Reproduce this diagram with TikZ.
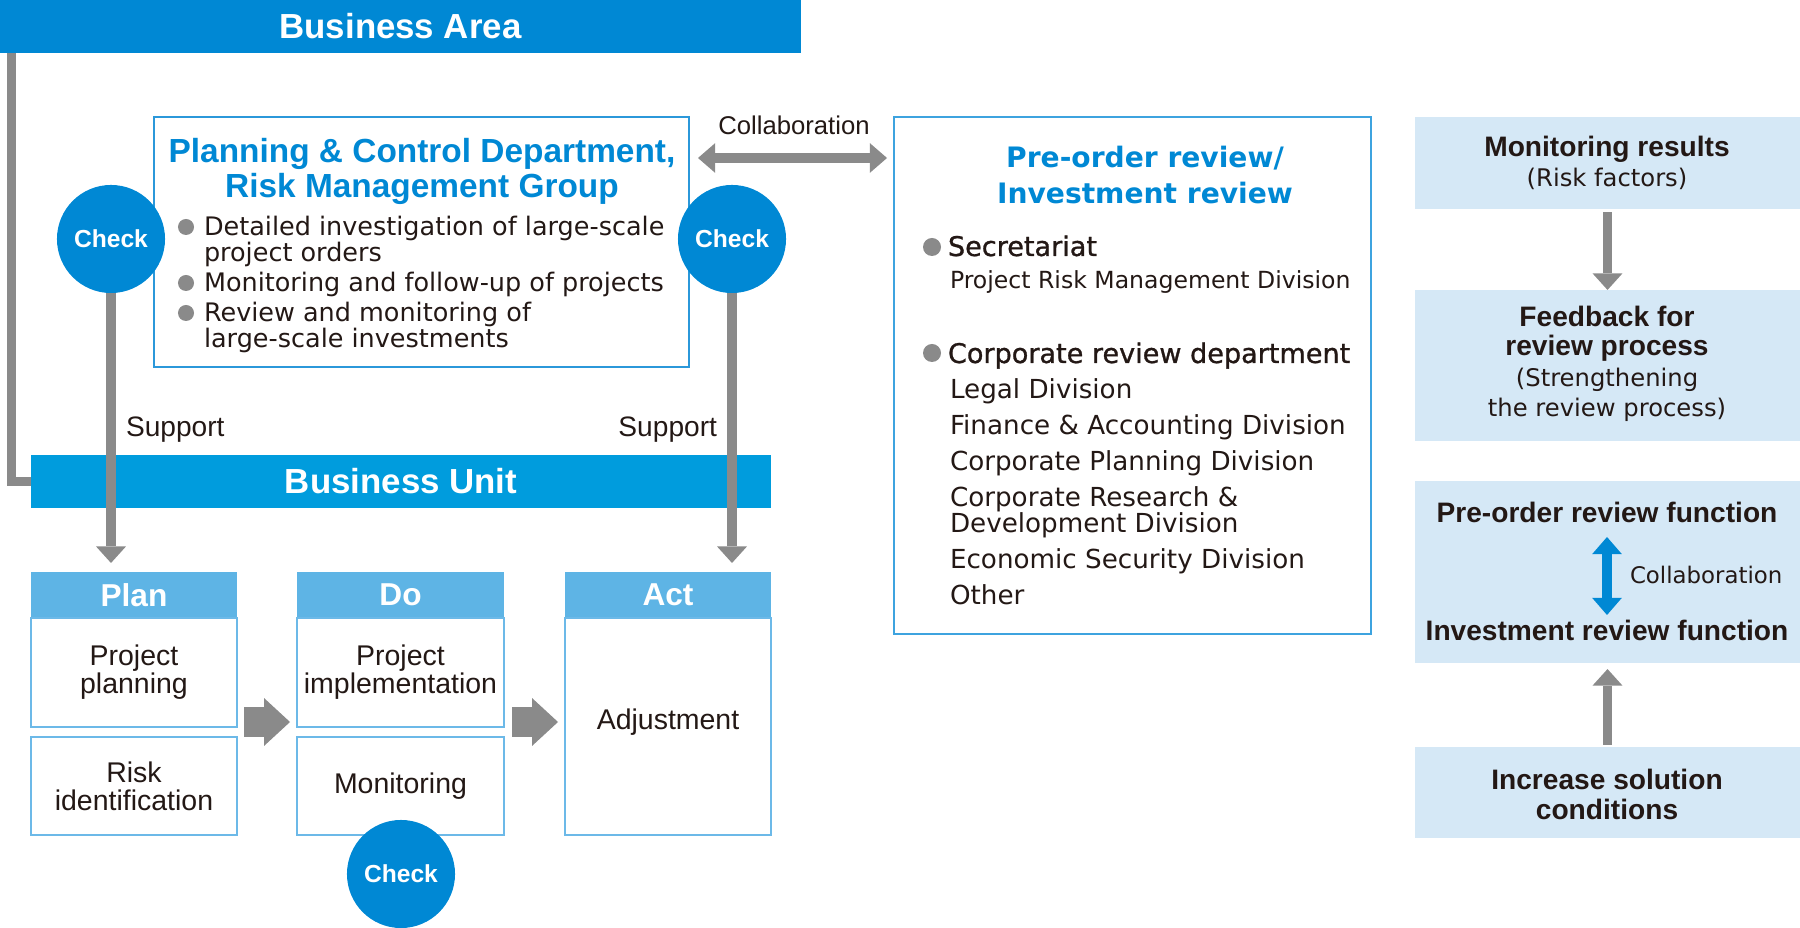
\documentclass[tikz,border=0pt]{standalone}
\usepackage{fontspec}
\setmainfont{Liberation Sans}
\newfontfamily\dv{DejaVu Sans}
\newfontfamily\dvsemi[FakeBold=1]{DejaVu Sans}
\usetikzlibrary{arrows.meta,calc}
\definecolor{bdark}{HTML}{0088D4}
\definecolor{bunitc}{HTML}{009CDD}
\definecolor{bhead}{HTML}{5EB4E5}
\definecolor{bline}{HTML}{6CB9E8}
\definecolor{pcline}{HTML}{2B98DA}
\definecolor{preline}{HTML}{3DA3DF}
\definecolor{gry}{HTML}{8A8A8A}
\definecolor{rfill}{HTML}{D5E8F6}
\definecolor{txt}{HTML}{231815}
\begin{document}
\begin{tikzpicture}[x=0.01cm,y=-0.01cm,
  every node/.style={inner sep=0pt, outer sep=0pt, text=txt},
  bar/.style={fill=#1, text=white, font=\bfseries\fontsize{9.9}{10}\selectfont},
  ttl/.style={anchor=base, text=bdark, font=\bfseries\fontsize{9.5}{10}\selectfont},
  pttl/.style={anchor=base, text=bdark, font=\dv\bfseries\fontsize{8}{9}\selectfont},
  dot/.style={circle, fill=gry, minimum size=#1},
  lb/.style={anchor=base west, font=\dv\fontsize{7.25}{8}\selectfont},
  rb/.style={anchor=base west, font=\dv\fontsize{6.7}{8}\selectfont},
  rbl/.style={anchor=base west, font=\dv\fontsize{7.45}{8}\selectfont},
  rh/.style={anchor=base west, font=\dvsemi\fontsize{7.7}{9}\selectfont},
  rbox/.style={fill=rfill, minimum width=3.85cm},
  rbold/.style={anchor=base, font=\bfseries\fontsize{8}{9}\selectfont},
  rpar/.style={anchor=base, font=\dv\fontsize{6.9}{8}\selectfont},
  chk/.style={circle, fill=bdark, minimum size=1.08cm, text=white, font=\bfseries\fontsize{7}{8}\selectfont},
  hd/.style={fill=bhead, minimum width=2.06cm, minimum height=0.46cm, text=white, font=\bfseries\fontsize{9}{10}\selectfont},
  bx/.style={draw=bline, line width=0.45pt, fill=white, minimum width=2.06cm, align=center, font=\fontsize{8.1}{7.9}\selectfont},
  lbl/.style={font=\fontsize{#1}{9}\selectfont},
  garrow/.style={draw=gry, line width=2.83pt, -{Triangle[length=4.7pt,width=8.5pt,line width=0pt]}},
  gdarrow/.style={draw=gry, line width=2.83pt, {Triangle[length=4.9pt,width=8.5pt,line width=0pt]}-{Triangle[length=4.9pt,width=8.5pt,line width=0pt]}},
  bdarrow/.style={draw=bdark, line width=2.83pt, {Triangle[length=4.9pt,width=8.5pt,line width=0pt]}-{Triangle[length=4.9pt,width=8.5pt,line width=0pt]}},
  blk/.style={draw=gry, line width=8.79pt, -{Triangle[length=7.37pt,width=13.6pt,line width=0pt]}}
]
\useasboundingbox (0,0) rectangle (1800,928);

% Bars
\node[bar=bdark, minimum width=8.01cm, minimum height=0.53cm] (barea) at (400.5,26.5) {Business Area};
\node[bar=bunitc, minimum width=7.40cm, minimum height=0.53cm] (bunit) at (401,481.5) {Business Unit};
\draw[gry, line width=2.55pt] ($(barea.south west)+(12,0)$) |- (bunit.west);

% Planning & Control box
\node[draw=pcline, line width=0.6pt, minimum width=5.35cm, minimum height=2.50cm] (pcbox) at (421.5,242) {};
\node[ttl] (pct1) at (422,163) {Planning \& Control Department,};
\node[ttl] (pct2) at (422,198) {Risk Management Group};
\node[dot=0.16cm] (d1) at (186,227) {};
\node[dot=0.16cm] (d2) at (186,283) {};
\node[dot=0.16cm] (d3) at (186,313) {};
\node[lb] (b1a) at (204,236) {Detailed investigation of large-scale};
\node[lb] (b1b) at (204,262) {project orders};
\node[lb] (b2) at (204,292) {Monitoring and follow-up of projects};
\node[lb] (b3a) at (204,322) {Review and monitoring of};
\node[lb] (b3b) at (204,348) {large-scale investments};

% Collaboration arrow
\coordinate (c1) at (698,158);
\coordinate (c2) at (887,158);
\draw[gdarrow] (c1) -- (c2);
\node[anchor=base, lbl=7.3] (collab) at (794,135) {Collaboration};

% Pre-order box
\node[draw=preline, line width=0.7pt, minimum width=4.77cm, minimum height=5.17cm] (prebox) at (1132.5,375.5) {};
\node[pttl] (prt1) at (1145,168) {Pre-order review/};
\node[pttl] (prt2) at (1145,204) {Investment review};
\node[dot=0.18cm] (e1) at (932,247) {};
\node[dot=0.18cm] (e2) at (932,353) {};
\node[rh] (sec) at (948,256) {Secretariat};
\node[rb] (s1) at (950,289) {Project Risk Management Division};
\node[rh] (crd) at (948,363) {Corporate review department};
\node[rbl] (s2) at (950,399) {Legal Division};
\node[rbl] (s3) at (950,435) {Finance \& Accounting Division};
\node[rbl] (s4) at (950,471) {Corporate Planning Division};
\node[rbl] (s5) at (950,507) {Corporate Research \&};
\node[rbl] (s6) at (950,533) {Development Division};
\node[rbl] (s7) at (950,569) {Economic Security Division};
\node[rbl] (s8) at (950,605) {Other};

% Right column
\node[rbox, minimum height=0.92cm] (r1) at (1607.5,163) {};
\node[rbox, minimum height=1.51cm] (r2) at (1607.5,365.5) {};
\node[rbox, minimum height=1.82cm] (r3) at (1607.5,572) {};
\node[rbox, minimum height=0.91cm] (r4) at (1607.5,792.5) {};
\node[rbold] (t1) at (1607,157) {Monitoring results};
\node[rpar] (t2) at (1607,187) {(Risk factors)};
\node[rbold] (t3) at (1607,327) {Feedback for};
\node[rbold] (t4) at (1607,356) {review process};
\node[rpar] (t5) at (1607,387) {(Strengthening};
\node[rpar] (t6) at (1607,417) {the review process)};
\node[rbold] (t7) at (1607,523) {Pre-order review function};
\node[anchor=base west, font=\dv\fontsize{6.5}{8}\selectfont] (t8) at (1630,584) {Collaboration};
\node[rbold] (t9) at (1607,641) {Investment review function};
\node[rbold] (t10) at (1607,789) {Increase solution};
\node[rbold] (t11) at (1607,819) {conditions};
\draw[garrow] ($(r1.south)+(0,3)$) -- (r2.north);
\draw[garrow] ($(r4.north)+(0,-2)$) -- ($(r3.south)+(0,6)$);
\coordinate (ca) at (1607,537);
\coordinate (cb) at (1607,615);
\draw[bdarrow] (ca) -- (cb);

% PDCA boxes
\node[hd] (planH) at (134,595) {Plan};
\node[bx, minimum height=1.09cm] (plan1) at (134,672.5) {Project\\planning};
\node[bx, minimum height=0.98cm] (plan2) at (134,786) {Risk\\identification};
\node[hd, minimum width=2.07cm] (doH) at (400.5,595) {Do};
\node[bx, minimum width=2.07cm, minimum height=1.09cm] (do1) at (400.5,672.5) {Project\\implementation};
\node[bx, minimum width=2.07cm, minimum height=0.98cm] (do2) at (400.5,786) {Monitoring};
\node[hd] (actH) at (668,595) {Act};
\node[bx, minimum height=2.17cm] (act1) at (668,726.5) {};
\node[font=\fontsize{8.1}{7.9}\selectfont] (actt) at (668,722) {Adjustment};
\coordinate (pa) at (244,722);
\coordinate (pb) at (290,722);
\coordinate (pc) at (512,722);
\coordinate (pd) at (558,722);
\draw[blk] (pa) -- (pb);
\draw[blk] (pc) -- (pd);

% Check circles and support lines
\node[chk] (chkL) at (111,239) {Check};
\node[chk] (chkR) at (732,239) {Check};
\node[chk] (chkB) at (401,874) {Check};
\draw[garrow] (chkL.south) -- ($(chkL.south |- planH.north)+(0,-9)$);
\draw[garrow] (chkR.south) -- ($(chkR.south |- actH.north)+(0,-9)$);
\node[anchor=base west, lbl=8] (sup1) at (126,437) {Support};
\node[anchor=base east, lbl=8] (sup2) at (717,437) {Support};
\end{tikzpicture}
\end{document}
